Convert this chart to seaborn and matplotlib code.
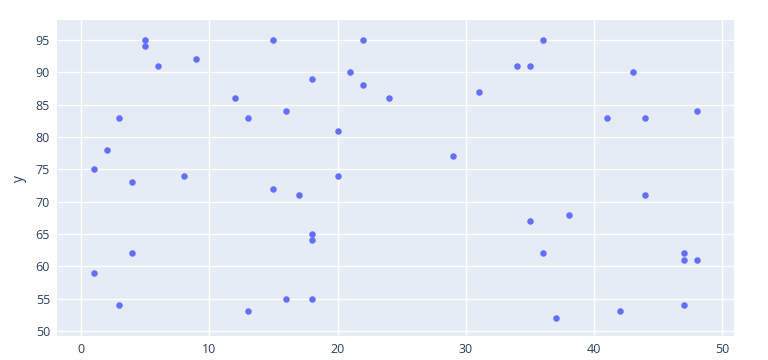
import matplotlib
matplotlib.use("Agg")
import matplotlib.pyplot as plt
import seaborn as sns
import pandas as pd

x_vals = [1, 1, 2, 3, 3, 4, 4, 5, 5, 6, 8, 9, 12, 13, 13, 15, 15, 16, 16, 17,
          18, 18, 18, 18, 20, 20, 21, 22, 22, 24, 29, 31, 34, 35, 35, 36, 36, 37,
          38, 41, 42, 43, 44, 44, 47, 47, 47, 48, 48]
y_vals = [75, 59, 78, 83, 54, 73, 62, 95, 94, 91, 74, 92, 86, 83, 53, 95, 72, 84,
          55, 71, 89, 65, 64, 55, 81, 74, 90, 95, 88, 86, 77, 87, 91, 91, 67, 95,
          62, 52, 68, 83, 53, 90, 83, 71, 62, 61, 54, 84, 61]
x_ticks = [0, 10, 20, 30, 40, 50]
y_ticks = [50, 55, 60, 65, 70, 75, 80, 85, 90, 95]

df = pd.DataFrame({"x": x_vals, "y": y_vals})

sns.set_theme(style="white")
plt.rcParams["font.family"] = ["Open Sans", "DejaVu Sans"]

fig = plt.figure(figsize=(7.68, 3.6), dpi=100)
ax = fig.add_axes([57 / 768, 1 - 336 / 360, (734 - 57) / 768, (336 - 20) / 360])
ax.set_facecolor("#E5ECF6")
ax.set_axisbelow(True)

sns.scatterplot(data=df, x="x", y="y", ax=ax, color="#636EFA", s=22,
                linewidth=0, alpha=1, zorder=3)

ax.set_xlim(-1.87, 50.9)
ax.set_ylim(49.2, 98.1)
ax.set_xticks(x_ticks)
ax.set_yticks(y_ticks)
ax.grid(True, color="white", linewidth=1.0)
for s in ax.spines.values():
    s.set_visible(False)
ax.tick_params(axis="both", length=0, labelsize=9, colors="#2a3f5f", pad=5)
ax.set_xlabel("")
ax.set_ylabel("y", fontsize=10, color="#2a3f5f")
ax.yaxis.set_label_coords((27 - 57) / 677, 0.5)

fig.savefig("out.png", dpi=100)
